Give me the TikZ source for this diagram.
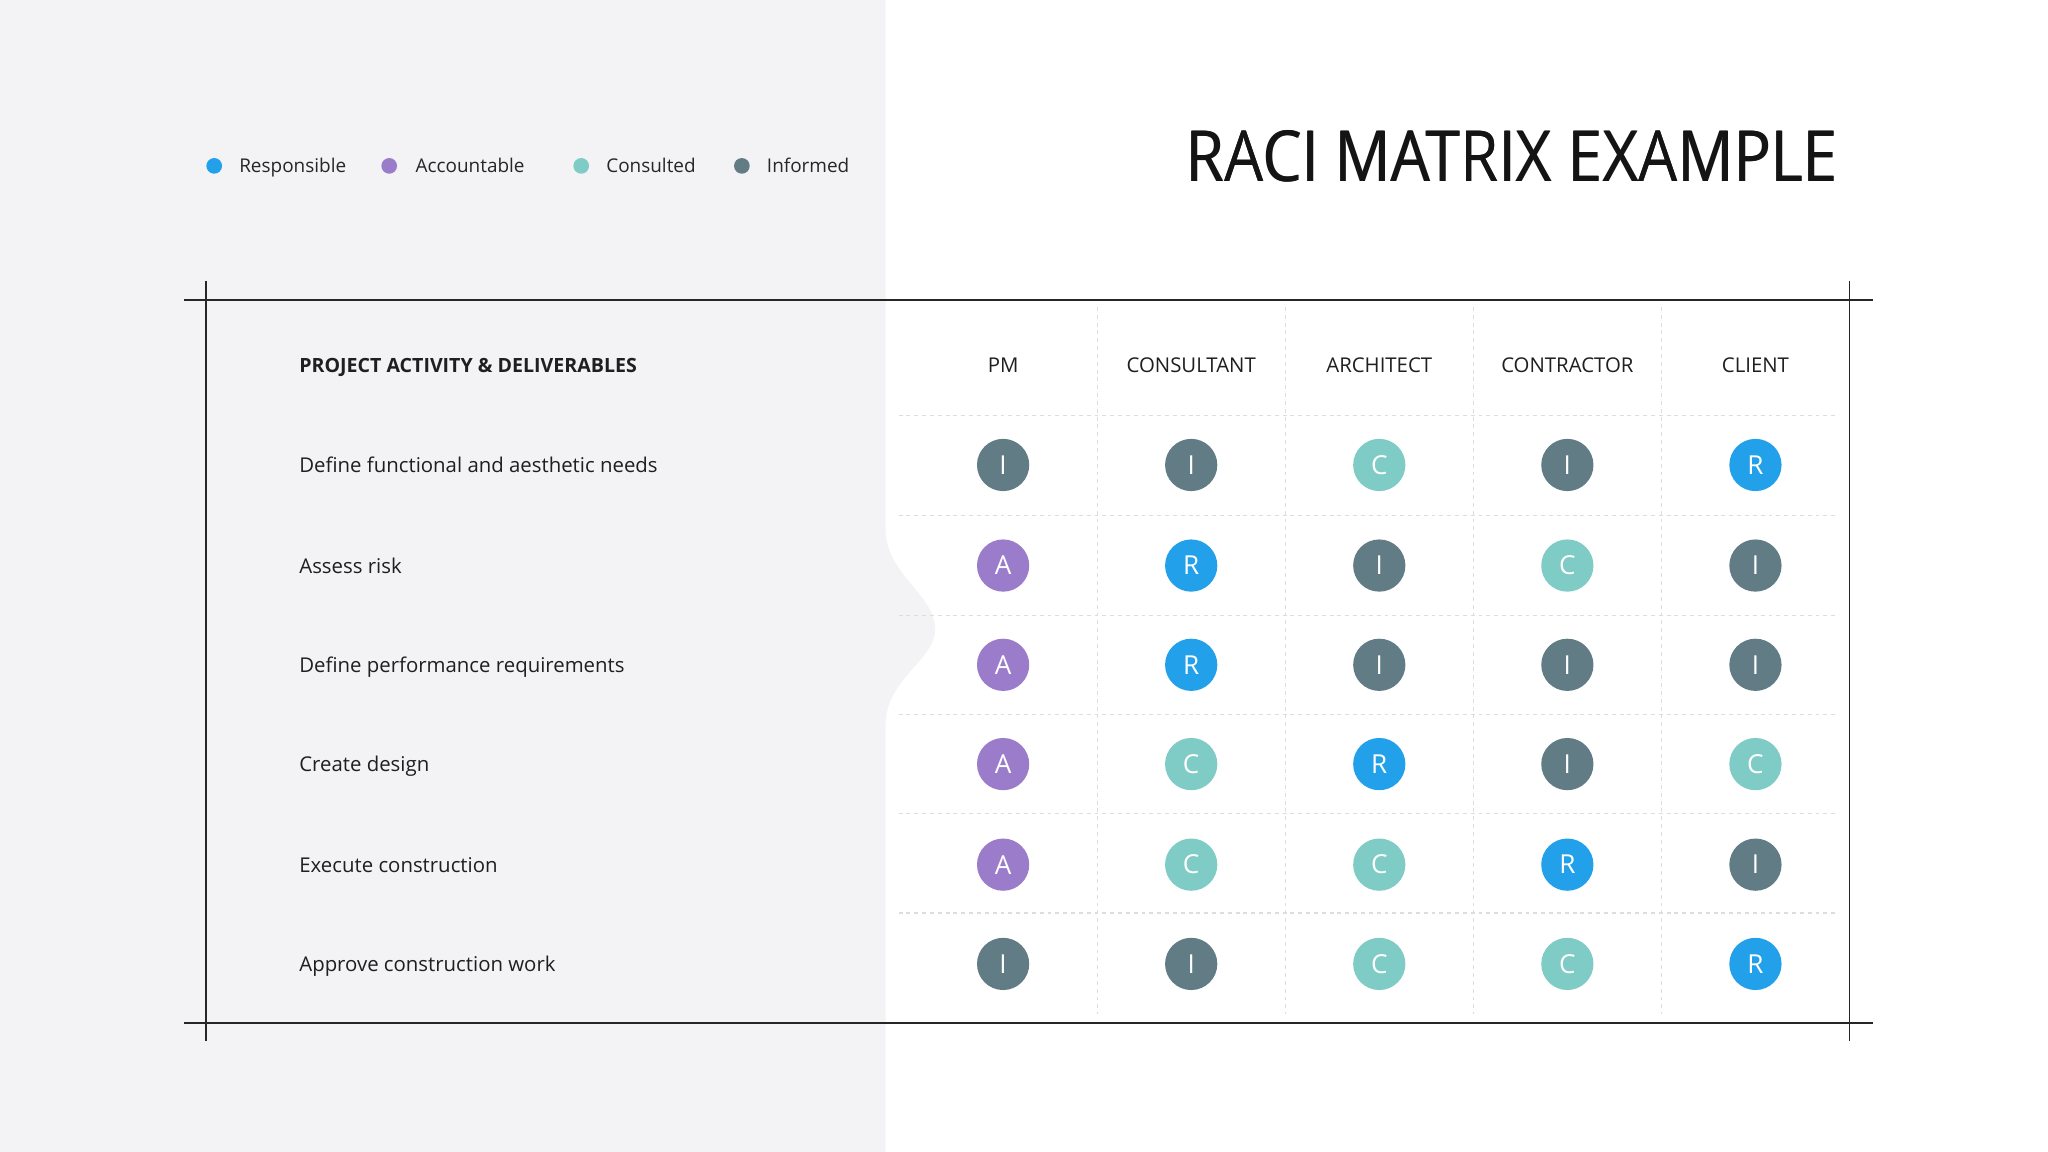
\documentclass[tikz,border=0pt]{standalone}
\usepackage{fontspec}
\setmainfont{Open Sans}
\definecolor{cI}{HTML}{617C85}
\definecolor{cC}{HTML}{7FCBC6}
\definecolor{cR}{HTML}{22A0EA}
\definecolor{cA}{HTML}{9B7CCB}
\definecolor{bgL}{HTML}{F3F2F5}
\definecolor{gridcol}{HTML}{DCDCE2}
\begin{document}
\begin{tikzpicture}[x=1pt,y=-1pt,
  badge/.style={circle,minimum size=40pt,inner sep=0pt,text=white,font=\fontsize{20}{20}\selectfont},
  ldot/.style={circle,minimum size=12pt,inner sep=0pt},
  ltxt/.style={anchor=base west,inner sep=0pt,font=\fontsize{14.5}{16}\selectfont,text=black!85},
  rowtxt/.style={anchor=base west,inner sep=0pt,font=\fontsize{15.6}{18}\selectfont,text=black!88},
  coltxt/.style={anchor=base,inner sep=0pt,font=\fontsize{15.6}{18}\selectfont,text=black!88},
  frame/.style={line width=1.4pt,black!85},
  gridline/.style={gridcol,dashed,line width=0.8pt}]
\useasboundingbox (0,0) rectangle (1568,882);
\fill[white] (0,0) rectangle (1568,882);
\fill[bgL] (0,0) -- (678,0) -- (678,405) .. controls (678,440) and (716,455) .. (716,482)
  .. controls (716,505) and (678,520) .. (678,555) -- (678,882) -- (0,882) -- cycle;
% legend
\node[ldot,fill=cR] (d1) at (164,127) {}; \node[ltxt] (l1) at (183,132) {Responsible};
\node[ldot,fill=cA] (d2) at (298,127) {}; \node[ltxt] (l2) at (318,132) {Accountable};
\node[ldot,fill=cC] (d3) at (445,127) {}; \node[ltxt] (l3) at (464,132) {Consulted};
\node[ldot,fill=cI] (d4) at (568,127) {}; \node[ltxt] (l4) at (587,132) {Informed};
\node[anchor=base east,font=\fontsize{54}{60}\selectfont,text=black!92,inner sep=0pt,xscale=0.88] (title) at (1407,139) {RACI MATRIX EXAMPLE};
\node[anchor=base east,font=\fontsize{54}{60}\selectfont,text=black!92,inner sep=0pt,xscale=0.88] (title2) at (1407.6,139) {RACI MATRIX EXAMPLE};
% grid
\foreach \y in {318,395,471,547,623,699} \draw[gridline] (688,\y) -- (1408,\y);
\foreach \x in {840,984,1128,1272} \draw[gridline] (\x,235) -- (\x,776);
% frame
\draw[frame] (141,230) -- (1434,230);
\draw[frame] (141,783) -- (1434,783);
\draw[frame] (158,215) -- (158,797);
\draw[frame] (1416,215) -- (1416,797);
% headers
\node[rowtxt,font=\bfseries\fontsize{15}{18}\selectfont] (h0) at (229,285) {PROJECT ACTIVITY \& DELIVERABLES};
\node[coltxt] (h1) at (768,285) {PM};
\node[coltxt] (h2) at (912,285) {CONSULTANT};
\node[coltxt] (h3) at (1056,285) {ARCHITECT};
\node[coltxt] (h4) at (1200,285) {CONTRACTOR};
\node[coltxt] (h5) at (1344,285) {CLIENT};
% rows
\foreach \t/\y [count=\i] in {Define functional and aesthetic needs/362,Assess risk/439,Define performance requirements/515,Create design/591,Execute construction/668,Approve construction work/744}
  \node[rowtxt] (r\i) at (229,\y) {\t};
\foreach \row/\y [count=\i] in {{I,I,C,I,R}/356,{A,R,I,C,I}/433,{A,R,I,I,I}/509,{A,C,R,I,C}/585,{A,C,C,R,I}/662,{I,I,C,C,R}/738}
  \foreach \v [count=\j] in \row
    \node[badge,fill=c\v] (b\i\j) at ({624+144*\j},\y) {\v};
\end{tikzpicture}
\end{document}
